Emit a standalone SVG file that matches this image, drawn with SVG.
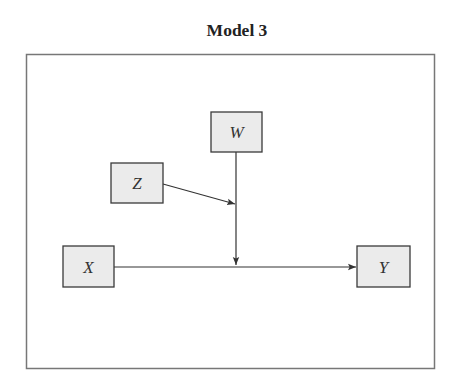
<svg xmlns="http://www.w3.org/2000/svg" width="474" height="383" viewBox="0 0 474 383">
<style>
.box{fill:#ebebeb;stroke:#3a3a3a;stroke-width:1.3}
.lbl{font-family:"Liberation Serif",serif;font-style:italic;font-size:17px;fill:#333;text-anchor:middle}
.edge{stroke:#333;stroke-width:1.2;fill:none}
</style>
<defs>
<marker id="ah" viewBox="0 0 10 10" refX="10" refY="5" markerWidth="8" markerHeight="8" markerUnits="userSpaceOnUse" orient="auto">
<path d="M0,1 L10,5 L0,9 L2,5 Z" fill="#333"/>
</marker>
</defs>
<rect width="474" height="383" fill="#fff"/>
<text x="237" y="36" font-family="Liberation Serif,serif" font-weight="bold" font-size="17.5" text-anchor="middle" fill="#222">Model 3</text>
<rect x="26.5" y="54.5" width="408" height="314" fill="none" stroke="#777" stroke-width="1.5"/>
<g id="connectors">
<line class="edge" x1="114" y1="267" x2="356" y2="267" marker-end="url(#ah)"/>
<line class="edge" x1="236" y1="152" x2="236" y2="265" marker-end="url(#ah)"/>
<line class="edge" x1="163" y1="184" x2="235" y2="204" marker-end="url(#ah)"/>
</g>
<g id="W"><rect class="box" x="211" y="112" width="51" height="40"/><text class="lbl" x="236.5" y="138">W</text></g>
<g id="Z"><rect class="box" x="111" y="163" width="52" height="40"/><text class="lbl" x="137" y="189">Z</text></g>
<g id="X"><rect class="box" x="63" y="246" width="51" height="41"/><text class="lbl" x="88.5" y="273">X</text></g>
<g id="Y"><rect class="box" x="357" y="246" width="53" height="41"/><text class="lbl" x="383.5" y="273">Y</text></g>
</svg>
